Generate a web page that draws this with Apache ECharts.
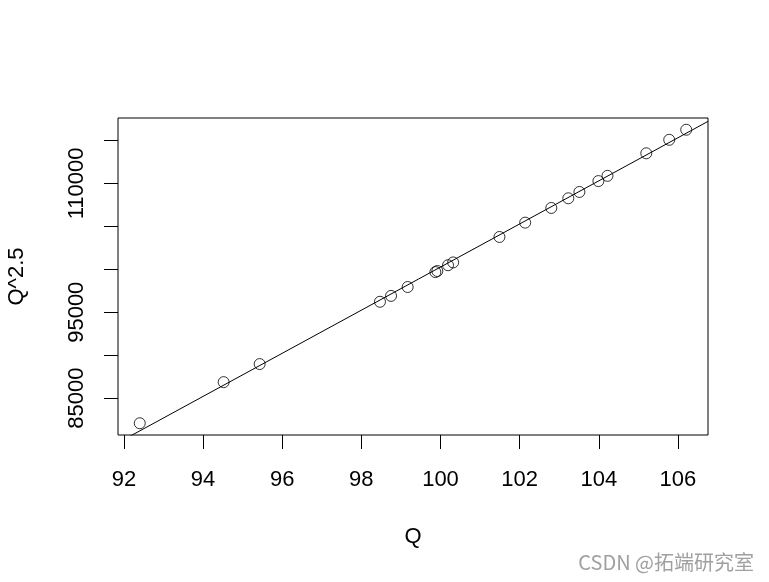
<!DOCTYPE html>
<html>
<head>
<meta charset="utf-8">
<script src="https://cdn.jsdelivr.net/npm/echarts@6/dist/echarts.min.js"></script>
<style>
html,body{margin:0;padding:0;background:#fff;}
#chart{width:769px;height:582px;}
</style>
</head>
<body>
<div id="chart"></div>
<script>
// Q values
var qValues = [92.40, 94.52, 95.43, 98.47, 98.75, 99.17, 99.87, 99.92, 100.19, 100.32,
               101.49, 102.14, 102.80, 103.23, 103.51, 103.99, 104.22, 105.20, 105.78, 106.21];
// Q^2.5 values
var q25Values = [82069, 86857, 88963, 96219, 96904, 97938, 99675, 99800, 100476, 100802,
                 103766, 105436, 107147, 108271, 109008, 110275, 110886, 113511, 115082, 116255];
// fitted straight line (end points across the plot region)
var lineX = [91.85, 106.76];
var lineY = [79800, 117230];
// ticks
var xTicks = [92, 94, 96, 98, 100, 102, 104, 106];
var yTicks = [85000, 90000, 95000, 100000, 105000, 110000, 115000];
var yTickLabels = [85000, 95000, 110000];

var pts = qValues.map(function (q, i) { return [q, q25Values[i]]; });
var linePts = lineX.map(function (x, i) { return [x, lineY[i]]; });

var FONT = 'Liberation Sans';
var chart = echarts.init(document.getElementById('chart'), null, {renderer: 'canvas'});
chart.setOption({
  backgroundColor: '#ffffff',
  animation: false,
  grid: {left: 118, right: 61, top: 118, bottom: 147, containLabel: false, outerBoundsMode: 'none',
         show: true, borderColor: '#000', borderWidth: 1, backgroundColor: 'transparent'},
  xAxis: {
    type: 'value', min: 91.85, max: 106.76,
    name: 'Q', nameLocation: 'middle', nameGap: 91,
    nameTextStyle: {fontFamily: FONT, fontSize: 22, color: '#000'},
    axisLine: {show: false},
    splitLine: {show: false},
    axisTick: {show: true, length: 14, inside: false, customValues: xTicks, lineStyle: {color: '#000', width: 1}},
    axisLabel: {show: true, margin: 34, customValues: xTicks, fontFamily: FONT, fontSize: 22, color: '#000',
                formatter: function (v) { return String(v); }}
  },
  yAxis: {
    type: 'value', min: 80702, max: 117622,
    name: 'Q^2.5', nameLocation: 'middle', nameGap: 90, nameRotate: 90,
    nameTextStyle: {fontFamily: FONT, fontSize: 22, color: '#000'},
    axisLine: {show: false},
    splitLine: {show: false},
    axisTick: {show: true, length: 14, inside: false, customValues: yTicks, lineStyle: {color: '#000', width: 1}},
    axisLabel: {show: true, margin: 30, rotate: 90, customValues: yTickLabels, fontFamily: FONT, fontSize: 22, color: '#000',
                formatter: function (v) { return String(v); }}
  },
  graphic: [{
    type: 'text', right: 15, top: 552,
    style: {text: 'CSDN @拓端研究室', fill: '#a0a0a0', font: '20px "Noto Sans CJK SC"'}
  }],
  series: [
    {
      type: 'line', data: linePts, showSymbol: false, clip: true,
      lineStyle: {color: '#000', width: 1}, silent: true, z: 1
    },
    {
      type: 'scatter', data: pts, symbol: 'circle', symbolSize: 11,
      itemStyle: {color: 'rgba(0,0,0,0)', borderColor: '#000', borderWidth: 1}, z: 2
    }
  ]
});
</script>
</body>
</html>
